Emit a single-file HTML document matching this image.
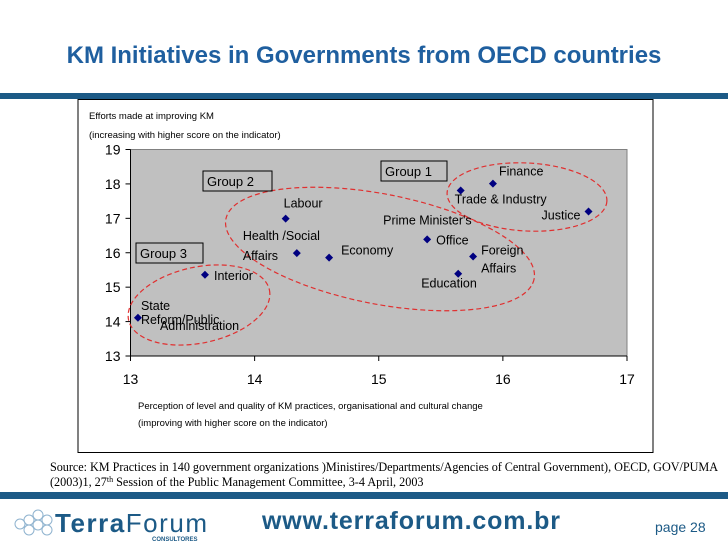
<!DOCTYPE html>
<html><head><meta charset="utf-8"><style>
body{margin:0;background:#fff;width:728px;height:546px;overflow:hidden;font-family:"Liberation Sans",sans-serif}
</style></head><body>
<svg width="728" height="546" xmlns="http://www.w3.org/2000/svg" font-family="Liberation Sans, sans-serif">
<text x="364" y="63" text-anchor="middle" font-size="24" font-weight="bold" fill="#1f5f9f">KM Initiatives in Governments from OECD countries</text>
<rect x="0" y="93" width="728" height="6" fill="#1c5a86"/>
<rect x="78" y="99.5" width="575" height="353" fill="#fff" stroke="#000" stroke-width="1"/>
<text x="89" y="119" font-size="9.5">Efforts made at improving KM</text>
<text x="89" y="138" font-size="9.5">(increasing with higher score on the indicator)</text>
<g id="plot"></g>
<text x="138" y="409" font-size="9.5">Perception of level and quality of KM practices, organisational and cultural change</text>
<text x="138" y="426" font-size="9.5">(improving with higher score on the indicator)</text>
<text font-family="Liberation Serif, serif" font-size="12.2" x="50" y="471" textLength="668">Source: KM Practices in 140 government organizations )Ministires/Departments/Agencies of Central Government), OECD, GOV/PUMA</text>
<text font-family="Liberation Serif, serif" font-size="12.2" x="50" y="486">(2003)1, 27<tspan font-size="8" dy="-4">th</tspan><tspan dy="4"> Session of the Public Management Committee, 3-4 April, 2003</tspan></text>
<rect x="0" y="492" width="728" height="7" fill="#1c5a86"/>
<g fill="none" stroke="#8fb3cf" stroke-width="1">
<circle cx="20" cy="524" r="5"/><circle cx="29" cy="520" r="5"/><circle cx="29" cy="530" r="5"/><circle cx="38" cy="515" r="5"/><circle cx="38" cy="525" r="5"/><circle cx="47" cy="520" r="5"/><circle cx="47" cy="530" r="5"/></g>
<text x="55" y="532" font-size="26" fill="#1c5a86" textLength="152"><tspan font-weight="bold">Terra</tspan><tspan>Forum</tspan></text>
<text x="152" y="541" font-size="6" font-weight="bold" fill="#1c5a86">CONSULTORES</text>
<text x="262" y="529" font-size="25" font-weight="bold" fill="#1c5a86" textLength="298">www.terraforum.com.br</text>
<text x="655" y="532" font-size="14" fill="#1c5a86">page 28</text>
</svg>
<script>
const names=["State Reform/Public","Interior","Labour","Health /Social Affairs","Economy","Prime Minister's Office","Education","Foreign Affairs","Trade & Industry","Finance","Justice"];
const xs=[13.06,13.60,14.25,14.34,14.60,15.39,15.64,15.76,15.66,15.92,16.69];
const ys=[14.11,15.36,16.99,15.99,15.86,16.39,15.39,15.89,17.81,18.01,17.20];
const xTicks=[13,14,15,16,17];
const yTicks=[13,14,15,16,17,18,19];
const NS="http://www.w3.org/2000/svg";
const L=130.5,R=627,T=149.5,B=356;
const X=v=>L+(v-13)/4*(R-L);
const Y=v=>B-(v-13)/6*(B-T);
const g=document.getElementById('plot');
function mk(t,a,p){const e=document.createElementNS(NS,t);for(const k in a)e.setAttribute(k,a[k]);(p||g).appendChild(e);return e;}
let e=mk('rect',{x:L,y:T,width:R-L,height:B-T,fill:'#c0c0c0',stroke:'#808080'});


mk('line',{x1:L,y1:T,x2:L,y2:B,stroke:'#000'});
mk('line',{x1:L,y1:B,x2:R,y2:B,stroke:'#000'});
yTicks.forEach(v=>{mk('line',{x1:L-5,y1:Y(v),x2:L,y2:Y(v),stroke:'#000'});
const t=mk('text',{x:L-10,y:Y(v)+5,'text-anchor':'end','font-size':14});t.textContent=v;

});
xTicks.forEach(v=>{mk('line',{x1:X(v),y1:B,x2:X(v),y2:B+5,stroke:'#000'});
const t=mk('text',{x:X(v),y:B+28,'text-anchor':'middle','font-size':14});t.textContent=v;

});
[[527,197,80,34,3],[380,249,157,55,11],[199,305,72,38,-12]].forEach((c,i)=>{
const el=mk('ellipse',{cx:c[0],cy:c[1],rx:c[2],ry:c[3],transform:`rotate(${c[4]} ${c[0]} ${c[1]})`,fill:'none',stroke:'#e03030','stroke-width':1.2,'stroke-dasharray':'5,3'});

});
[["Group  1",381,161,66],["Group  2",203,171,69],["Group  3",136,243,67]].forEach(b=>{
const r=mk('rect',{x:b[1],y:b[2],width:b[3],height:20,fill:'none',stroke:'#000'});


const t=mk('text',{x:b[1]+4,y:b[2]+15,'font-size':13});t.textContent=b[0];

});
xs.forEach((v,i)=>{const cx=X(v),cy=Y(ys[i]);
const p=mk('path',{d:`M${cx} ${cy-4}L${cx+4} ${cy}L${cx} ${cy+4}L${cx-4} ${cy}Z`,fill:'#000080'});

});
function lab(txt,x,y){const t=mk('text',{x:x,y:y,'font-size':12.5});t.textContent=txt;

}
lab("State",X(xs[0])+3,Y(ys[0])-8);
lab("Reform/Public",X(xs[0])+3,Y(ys[0])+6);
lab("Administration",X(xs[0])+22,Y(ys[0])+12);
lab("Interior",X(xs[1])+9,Y(ys[1])+5);
lab("Labour",X(xs[2])-2,Y(ys[2])-11);
lab("Health /Social",X(xs[3])-54,Y(ys[3])-13);
lab("Affairs",X(xs[3])-54,Y(ys[3])+7);
lab("Economy",X(xs[4])+12,Y(ys[4])-3);
lab("Prime Minister's",X(xs[5])-44,Y(ys[5])-15);
lab("Office",X(xs[5])+9,Y(ys[5])+5);
lab("Education",X(xs[6])-37,Y(ys[6])+14);
lab("Foreign",X(xs[7])+8,Y(ys[7])-2);
lab("Affairs",X(xs[7])+8,Y(ys[7])+16);
lab("Trade & Industry",X(xs[8])-6,Y(ys[8])+13);
lab("Finance",X(xs[9])+6,Y(ys[9])-8);
lab("Justice",X(xs[10])-47,Y(ys[10])+8);
</script>
</body></html>
